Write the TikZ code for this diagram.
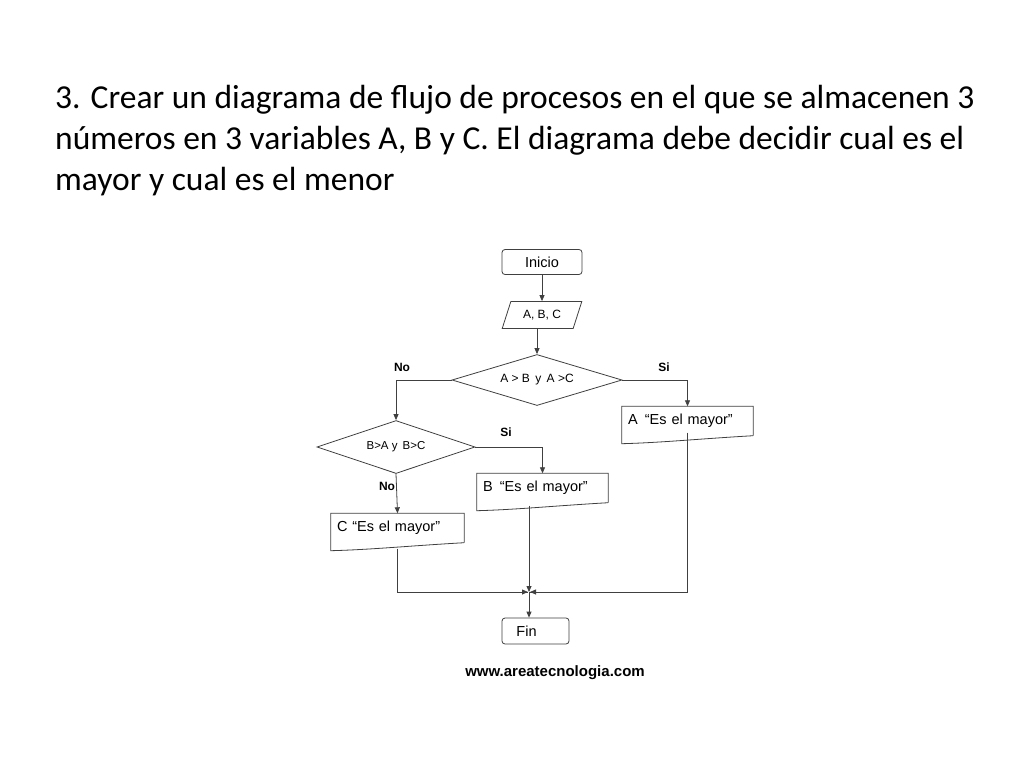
\documentclass[tikz,border=0pt]{standalone}
\usepackage{fontspec}
\setmainfont{Carlito}
\newfontfamily\diag{Liberation Sans}
\usetikzlibrary{arrows.meta,shapes.geometric}
\begin{document}
\begin{tikzpicture}[x=1pt,y=-1pt,
  every node/.style={font=\diag\fontsize{14.5}{16}\selectfont, inner sep=0pt},
  box/.style={draw, thick, draw=black!75},
  doc/.style={minimum width=#1, minimum height=29, text width=#1-12, align=left},
  lbl/.style={font=\diag\bfseries\fontsize{12}{14}\selectfont},
  arr/.style={thick, draw=black!75, -{Triangle[length=6pt,width=5pt]}},
  ln/.style={thick, draw=black!75}]
\useasboundingbox (0,0) rectangle (1024,768);
\fill[white] (0,0) rectangle (1024,768);
% title
\tikzset{ttl/.style={anchor=base west, font=\fontsize{33.5}{38}\selectfont}}
\node[ttl] (t1) at (55,108) {3. Crear un diagrama de flujo de procesos en el que se almacenen 3};
\node[ttl] (t2) at (55,149) {números en 3 variables A, B y C. El diagrama debe decidir cual es el};
\node[ttl] (t3) at (55,190) {mayor y cual es el menor};
% nodes
\node[box, rounded corners=3, minimum width=80, minimum height=25] (ini) at (542,262) {Inicio};
\node[box, trapezium, trapezium left angle=62, trapezium right angle=118, minimum width=80, minimum height=27, trapezium stretches=true, font=\diag\fontsize{12}{14}\selectfont] (in) at (542,315) {A, B, C};
\node[box, diamond, aspect=3.3, minimum width=170, minimum height=51, font=\diag\fontsize{12}{14}\selectfont] (d1) at (537,380) {A > B \,y\, A >C};
\node[box, diamond, aspect=3.0, minimum width=158, minimum height=53, font=\diag\fontsize{11.5}{13}\selectfont] (d2) at (396,447) {B>A y\, B>C};
\node[doc=131] (a) at (687.5,421) {A\, “Es el mayor”};
\node[doc=131] (b) at (542.5,488) {B\, “Es el mayor”};
\node[doc=133] (c) at (397.5,528) {C “Es el mayor”};
\node[box, rounded corners=3, minimum width=67, minimum height=26] (fin) at (535.5,631) {\hspace*{-18pt}Fin};
\coordinate (m) at (529,592);
% document shapes
\foreach \n/\w in {a/131,b/131,c/133}{
  \draw[ln] (\n.south east) -- (\n.north east) -- (\n.north west) -- ([yshift=-8]\n.south west)
    .. controls +(0.3*\w,-1) and +(-0.4*\w,3) .. (\n.south east);
}
% labels
\node[lbl] (no1) at (402,367) {No};
\node[lbl] (si1) at (664,367) {Si};
\node[lbl] (si2) at (506,432) {Si};
\node[lbl] (no2) at (387,486) {No};
\node[font=\diag\bfseries\fontsize{15}{17}\selectfont] (url) at (555,673) {www.areatecnologia.com};
% connectors
\draw[arr] (ini) -- (in);
\draw[arr] (in.south -| d1.north) -- (d1.north);
\draw[arr] (d1.west) -| (d2.north);
\draw[arr] (d1.east) -| (a.north);
\draw[arr] (d2.east) -| (b.north);
\draw[arr] (d2.south) -- (c.north);
\draw[ln] ([yshift=-6]c.south) |- ([xshift=-1]m);
\draw[arr] ([xshift=-20]m) -- ([xshift=-1]m);
\draw[ln] ([yshift=3]a.south) |- ([xshift=1]m);
\draw[arr] ([xshift=20]m) -- ([xshift=1]m);
\draw[arr] ([yshift=-3]b.south -| m) -- (m);
\draw[arr] (m) -- (m |- fin.north);
\end{tikzpicture}
\end{document}
